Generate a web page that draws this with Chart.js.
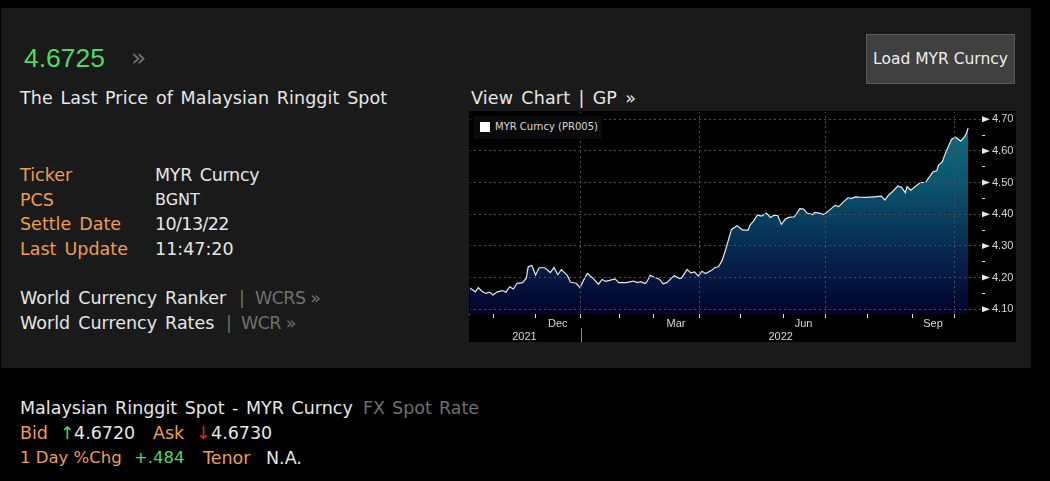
<!DOCTYPE html>
<html><head><meta charset="utf-8">
<script src="https://cdn.jsdelivr.net/npm/chart.js@4"></script>
<style>
html,body{margin:0;padding:0;background:#000;width:1050px;height:481px;overflow:hidden}
#panel{position:absolute;left:1px;top:8px;width:1030px;height:360px;background:#1a1a1a}
.t{position:absolute;white-space:pre;font-family:"DejaVu Sans",sans-serif;font-size:17.5px;line-height:20px;color:#e6e6e6;word-spacing:2.5px}
.o{color:#ef9d4d}.g{color:#6f6f6f}.gr{color:#4fd868}.r{color:#e0263a}
#btn{position:absolute;left:866px;top:34px;width:147px;height:48px;background:#404040;border:1px solid #5a5a5a;color:#eee;font:15.5px/48px "DejaVu Sans",sans-serif;text-align:center}
#box{position:absolute;left:469px;top:111px;width:547px;height:231px;background:#000}
#leg{position:absolute;left:474px;top:116px;width:128px;height:23px;background:#0b0b0b}
#leg i{position:absolute;left:6px;top:6px;width:10px;height:10px;background:#fff}
#leg span{position:absolute;left:21px;top:4px;font:10px/14px "DejaVu Sans",sans-serif;color:#d8d8d8;white-space:pre}
</style></head><body>
<div id="panel"></div>
<div class="t gr" style="left:24px;top:43px;font-family:'Liberation Sans';font-size:26.5px;line-height:30px;">4.6725</div>
<div class="t g" style="left:131px;top:43px;font-size:25px;line-height:30px;">»</div>
<div class="t" style="left:20px;top:88px;word-spacing:2px;letter-spacing:.1px">The Last Price of Malaysian Ringgit Spot</div>
<div class="t" style="left:471px;top:88px;letter-spacing:.15px">View Chart | GP »</div>
<div class="t o" style="left:20px;top:165px">Ticker</div><div class="t" style="left:155px;top:165px;letter-spacing:-.3px">MYR Curncy</div>
<div class="t o" style="left:20px;top:190px">PCS</div><div class="t" style="left:155px;top:190px;font-size:16px">BGNT</div>
<div class="t o" style="left:20px;top:214px">Settle Date</div><div class="t" style="left:155px;top:214px;letter-spacing:-.6px">10/13/22</div>
<div class="t o" style="left:20px;top:239px">Last Update</div><div class="t" style="left:155px;top:239px">11:47:20</div>
<div class="t" style="left:20px;top:288px">World Currency Ranker</div><div class="t g" style="left:239px;top:288px">|</div><div class="t g" style="left:255px;top:288px;word-spacing:0;letter-spacing:-.6px">WCRS »</div>
<div class="t" style="left:20px;top:313px">World Currency Rates</div><div class="t g" style="left:226px;top:313px">|</div><div class="t g" style="left:241px;top:313px;word-spacing:0;letter-spacing:-.6px">WCR »</div>
<div class="t" style="left:20px;top:398px;word-spacing:2px">Malaysian Ringgit Spot - MYR Curncy</div>
<div class="t g" style="left:363px;top:398px;word-spacing:1.5px">FX Spot Rate</div>
<div class="t o" style="left:20px;top:423px">Bid</div><div class="t gr" style="left:60px;top:423px">↑</div><div class="t" style="left:74px;top:423px">4.6720</div>
<div class="t o" style="left:153px;top:423px">Ask</div><div class="t r" style="left:196px;top:423px">↓</div><div class="t" style="left:211px;top:423px">4.6730</div>
<div class="t o" style="left:20px;top:448px;font-size:16.5px;word-spacing:0">1 Day %Chg</div><div class="t gr" style="left:134px;top:448px;font-size:16.5px">+.484</div>
<div class="t o" style="left:203px;top:448px">Tenor</div><div class="t" style="left:266px;top:448px">N.A.</div>
<div id="btn">Load MYR Curncy</div>
<div id="box"><canvas id="c" width="547" height="231"></canvas></div>
<div id="leg"><i></i><span id="legText"></span></div>
<script>
const seriesName = "MYR Curncy (PR005)";
// position in trading days since the start of the chart
const tradingDay = [0,2,3.4,5,7,9,11,13,15,18,20,22,24,26,29,31,32,34,36,38,41,44,46,48,50,53,55,58,60,62,64,67,70,72,74,76,79,81,85,89,91,93,95,96,98,100,103,105,107,111,114,115,118,120,122,124,126,128,131,133,135,137,139,142,145,148,151,152,154,156,158,161,163,165,167,169,171,173,176,179,181,183,186,187,190,192,195,198,200,202,205,207,209,211,215,217,219,223,225,227,229,232,234,236,237,239,244,247,251,253,254,256,258,261,263,266,268,269,270];
const lastPrice = [4.169,4.161,4.155,4.168,4.157,4.150,4.154,4.145,4.154,4.159,4.154,4.171,4.164,4.182,4.184,4.198,4.234,4.238,4.208,4.231,4.231,4.216,4.232,4.209,4.225,4.208,4.185,4.182,4.168,4.192,4.213,4.198,4.179,4.194,4.188,4.191,4.196,4.184,4.184,4.189,4.184,4.187,4.181,4.184,4.207,4.202,4.195,4.180,4.184,4.206,4.197,4.199,4.226,4.215,4.218,4.205,4.220,4.213,4.222,4.232,4.234,4.255,4.292,4.352,4.364,4.350,4.350,4.366,4.379,4.398,4.394,4.403,4.390,4.397,4.396,4.368,4.384,4.390,4.392,4.418,4.416,4.403,4.399,4.406,4.403,4.399,4.413,4.428,4.424,4.436,4.452,4.450,4.455,4.454,4.453,4.454,4.455,4.457,4.445,4.461,4.471,4.489,4.485,4.468,4.487,4.476,4.500,4.501,4.534,4.537,4.555,4.565,4.597,4.636,4.644,4.631,4.644,4.655,4.6725];
const monthTicks = [13.5,36,60.4,81.2,100,124.5,147,170,193,215.7,239.7,262.7];
const quarterTicks = [60.4,124.5,193,262.7];
const monthLabels = [[48,"Dec"],[112,"Mar"],[181,"Jun"],[251,"Sep"]];
const yearLabels = [[30,"2021"],[168.6,"2022"]];
const yearBreak = 60.4;
const priceTicks = [4.10,4.15,4.20,4.25,4.30,4.35,4.40,4.45,4.50,4.55,4.60,4.65,4.70];
const labelled = [4.10,4.20,4.30,4.40,4.50,4.60,4.70];
const isLabelled = v => labelled.some(l => Math.abs(l - v) < 1e-6);
const labelAt = new Map([...monthLabels.map(([d,s]) => [d,[s,""]]), ...yearLabels.map(([d,s]) => [d,["",s]])]);
const isQuarter = v => quarterTicks.includes(v);
const isMonth = v => monthTicks.includes(v);
const noPadding = s => { s.paddingLeft = s.paddingRight = s.paddingTop = s.paddingBottom = 0; };
document.getElementById('legText').textContent = seriesName;

const decor = {
  id: 'decor',
  afterDraw(ch) {
    const {x, y} = ch.scales, c = ch.ctx, a = ch.chartArea;
    c.save();
    c.clearRect(0, 0, a.right + 1, 1);
    c.clearRect(0, 0, 1, a.bottom);
    c.fillStyle = '#e8e8e8';
    labelled.forEach(v => {
      const p = y.getPixelForValue(v);
      c.beginPath(); c.moveTo(a.right, p - 3); c.lineTo(a.right + 8, p); c.lineTo(a.right, p + 3); c.closePath(); c.fill();
    });
    const bx = x.getPixelForValue(yearBreak);
    c.strokeStyle = '#8a8a8a'; c.lineWidth = 1;
    c.beginPath(); c.moveTo(Math.round(bx) + .5, a.bottom + 14); c.lineTo(Math.round(bx) + .5, a.bottom + 28); c.stroke();
    c.restore();
  }
};
new Chart(document.getElementById('c'), {
  type: 'line',
  data: { datasets: [{
    label: seriesName,
    data: tradingDay.map((d, i) => ({x: d, y: lastPrice[i]})),
    borderColor: '#e6eaea', borderWidth: 1.2, pointRadius: 0, tension: 0, fill: 'start',
    backgroundColor(ctx) {
      const a = ctx.chart.chartArea;
      if (!a) return '#05163f';
      const g = ctx.chart.ctx.createLinearGradient(0, a.top, 0, a.bottom);
      g.addColorStop(0, '#0d7488'); g.addColorStop(.35, '#0a566e'); g.addColorStop(.7, '#07264f'); g.addColorStop(1, '#02022a');
      return g;
    }
  }]},
  options: {
    responsive: false, animation: false,
    layout: { padding: 0, autoPadding: false },
    plugins: { tooltip: {enabled: false}, legend: {display: false} },
    scales: {
      x: {
        type: 'linear', min: 0, max: 277.5,
        afterBuildTicks(s) { s.ticks = [...monthTicks, ...monthLabels.map(m => m[0]), ...yearLabels.map(m => m[0])].sort((p, q) => p - q).map(v => ({value: v})); },
        afterFit(s) { s.height = 28; noPadding(s); },
        border: {color: '#e8e8e8', width: 1.2, dash: [2, 3]},
        grid: {
          z: 1, tickLength: 4,
          color: c => c.tick && isQuarter(c.tick.value) ? '#4e4e4e' : 'transparent',
          tickColor: c => c.tick && isMonth(c.tick.value) ? '#e8e8e8' : 'transparent',
          lineWidth: 1
        },
        ticks: {
          autoSkip: false, maxRotation: 0, padding: 0, color: '#d8d8d8', font: {family: 'Liberation Sans', size: 11, lineHeight: 1.15},
          callback: v => labelAt.get(v) || ''
        }
      },
      y: {
        position: 'right', min: 4.085, max: 4.726,
        afterBuildTicks(s) { s.ticks = priceTicks.map(v => ({value: v})); },
        afterFit(s) { s.width = 34; noPadding(s); },
        border: {color: '#e8e8e8', width: 1.2, dash: [2, 3]},
        grid: {
          z: 1, tickLength: 3,
          color: c => c.tick && isLabelled(c.tick.value) ? '#4e4e4e' : 'transparent',
          tickColor: c => c.tick && !isLabelled(c.tick.value) ? '#e8e8e8' : 'transparent',
          lineWidth: 1
        },
        ticks: {
          padding: 7, color: '#d8d8d8', font: {family: 'Liberation Sans', size: 11},
          callback: v => isLabelled(v) ? v.toFixed(2) : ''
        }
      }
    }
  },
  plugins: [decor]
});
</script>
</body></html>
